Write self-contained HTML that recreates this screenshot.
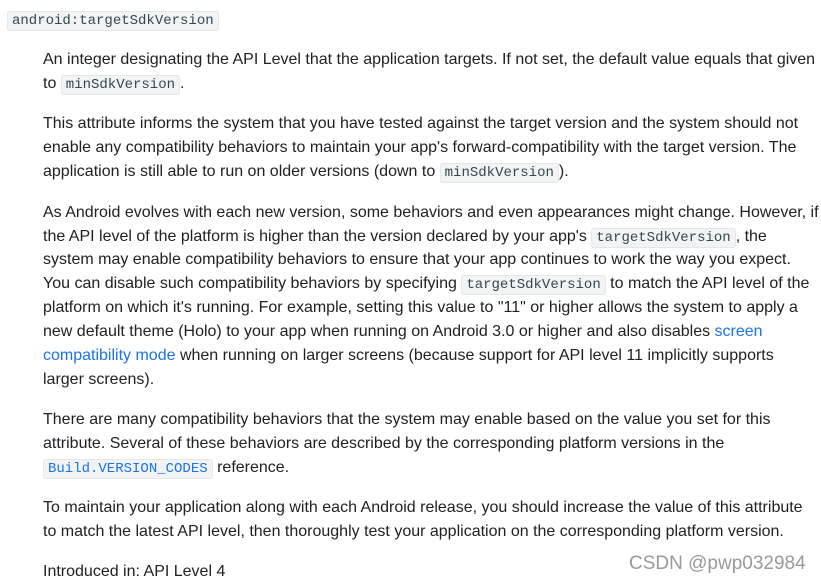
<!DOCTYPE html>
<html><head><meta charset="utf-8"><style>
body{margin:0;width:821px;height:586px;background:#fff;position:relative;overflow:hidden;font-family:"Liberation Sans",sans-serif;color:#202124;font-size:16px}
.l{position:absolute;left:43px;white-space:nowrap;line-height:24px;height:24px}
code{font-family:"Liberation Mono",monospace;font-size:14px;color:#37474f;background:#f1f3f4;border:1px solid #e4e6e8;border-radius:3px;padding:1px 4px}
a{color:#1a73e8;text-decoration:none}
a code{color:#1a73e8}
.wm{position:absolute;left:629px;top:553px;font-size:19px;color:#999;white-space:nowrap}
</style></head><body>
<div class="l" style="left:7px;top:8px"><code>android:targetSdkVersion</code></div>
<div class="l" style="top:48px">An integer designating the API Level that the application targets. If not set, the default value equals that given</div>
<div class="l" style="top:72px">to <code>minSdkVersion</code>.</div>
<div class="l" style="top:112px">This attribute informs the system that you have tested against the target version and the system should not</div>
<div class="l" style="top:136px">enable any compatibility behaviors to maintain your app's forward-compatibility with the target version. The</div>
<div class="l" style="top:160px">application is still able to run on older versions (down to <code>minSdkVersion</code>).</div>
<div class="l" style="top:201px">As Android evolves with each new version, some behaviors and even appearances might change. However, if</div>
<div class="l" style="top:225px">the API level of the platform is higher than the version declared by your app's <code>targetSdkVersion</code>, the</div>
<div class="l" style="top:248px">system may enable compatibility behaviors to ensure that your app continues to work the way you expect.</div>
<div class="l" style="top:272px">You can disable such compatibility behaviors by specifying <code>targetSdkVersion</code> to match the API level of the</div>
<div class="l" style="top:296px">platform on which it's running. For example, setting this value to "11" or higher allows the system to apply a</div>
<div class="l" style="top:320px">new default theme (Holo) to your app when running on Android 3.0 or higher and also disables <a>screen</a></div>
<div class="l" style="top:344px"><a>compatibility mode</a> when running on larger screens (because support for API level 11 implicitly supports</div>
<div class="l" style="top:368px">larger screens).</div>
<div class="l" style="top:408px">There are many compatibility behaviors that the system may enable based on the value you set for this</div>
<div class="l" style="top:432px">attribute. Several of these behaviors are described by the corresponding platform versions in the</div>
<div class="l" style="top:456px"><a><code>Build.VERSION_CODES</code></a> reference.</div>
<div class="l" style="top:496px">To maintain your application along with each Android release, you should increase the value of this attribute</div>
<div class="l" style="top:520px">to match the latest API level, then thoroughly test your application on the corresponding platform version.</div>
<div class="l" style="top:560px">Introduced in: API Level 4</div>
<div class="wm">CSDN @pwp032984</div>
</body></html>
